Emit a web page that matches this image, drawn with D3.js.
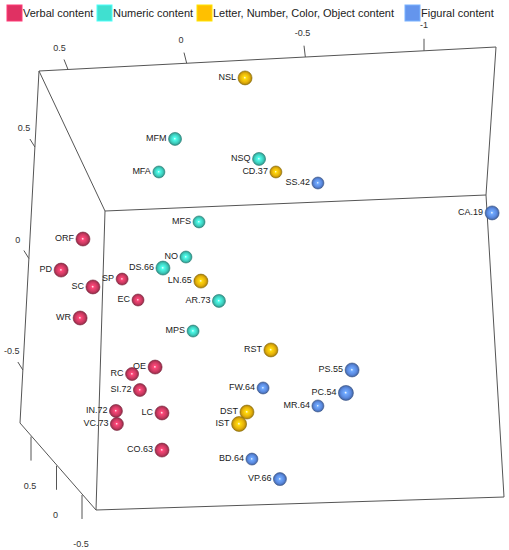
<!DOCTYPE html>
<html>
<head>
<meta charset="utf-8">
<script src="https://cdn.jsdelivr.net/npm/d3@7"></script>
<style>
  body { margin: 0; background: #fff; }
  svg { display: block; font-family: "Liberation Sans", Arial, Helvetica, sans-serif; }
</style>
</head>
<body>
<div id="chart"></div>
<script>
// legend groups
const groupNames = ["Verbal content", "Numeric content", "Letter, Number, Color, Object content", "Figural content"];
const groupColors = ["#e03163", "#40e0d0", "#ffc000", "#6495ed"];
const ballColors = ["#cc3a62", "#3fcfbf", "#e6b10a", "#5b8ae0"];

// tests: label, group index, horizontal reading, vertical reading, depth (ball size)
const labels = ["NSL","MFM","MFA","NSQ","CD.37","SS.42","CA.19","MFS","ORF","NO","DS.66","PD","LN.65","SP","SC","EC","AR.73","WR","MPS","RST","OE","RC","PS.55","FW.64","PC.54","SI.72","MR.64","DST","LC","IST","IN.72","VC.73","CO.63","BD.64","VP.66"];
const groups = [2,1,1,1,2,3,3,1,0,1,1,0,2,0,0,0,1,0,1,2,0,0,3,3,3,0,3,2,0,2,0,0,0,3,3];
const hVals = [-0.246,0.049,0.117,-0.305,-0.376,-0.553,-1.287,-0.052,0.437,0.003,0.100,0.529,-0.060,0.272,0.395,0.205,-0.136,0.449,-0.027,-0.355,0.133,0.230,-0.697,-0.322,-0.671,0.197,-0.553,-0.254,0.104,-0.221,0.298,0.294,0.104,-0.275,-0.393];
const vVals = [0.807,0.536,0.389,0.447,0.389,0.340,0.207,0.167,0.091,0.011,-0.038,-0.047,-0.096,-0.087,-0.122,-0.180,-0.184,-0.260,-0.318,-0.402,-0.478,-0.509,-0.491,-0.571,-0.593,-0.580,-0.651,-0.678,-0.682,-0.731,-0.673,-0.731,-0.847,-0.887,-0.976];
const depth = [0.17,-0.17,-0.5,-0.17,-0.5,-0.5,0.17,-0.5,0.17,-0.5,0.17,0.17,0.17,-0.5,0.17,-0.5,-0.17,0.17,-0.5,0.17,0.17,-0.17,0.17,-0.5,0.5,-0.17,-0.5,0.17,0.17,0.5,-0.17,-0.17,0.17,-0.5,-0.17];

// axis tick labels
const topTicks = [0.5, 0, -0.5, -1];
const leftTicks = [0.5, 0, -0.5];
const depthTicks = [0.5, 0, -0.5];

const width = 509, height = 550;

const svg = d3.select("#chart").append("svg")
  .attr("width", width)
  .attr("height", height);

// scales for the viewing plane
const x = d3.scaleLinear().domain([0.5, -1]).range([68, 424]);
const y = d3.scaleLinear().domain([0.5, -0.5]).range([147, 372]);
const r = d3.scaleLinear().domain([-0.5, 0.5]).range([6, 7.5]);

// box corners (projected)
const bTL = [39, 71], bTR = [496, 47], bBL = [20, 423];
const fTL = [105, 211], fTR = [486, 195], fBL = [96, 510], fBR = [504, 497];
const edges = [[bTL, bTR], [bTL, bBL], [bTL, fTL], [fTL, fTR], [fTL, fBL], [fBL, fBR], [fTR, fBR], [bTR, fTR], [bBL, fBL]];

const box = svg.append("g").attr("stroke", "#555").attr("stroke-width", 1).attr("fill", "none");
box.selectAll("line.edge").data(edges).join("line")
  .attr("class", "edge")
  .attr("x1", d => d[0][0]).attr("y1", d => d[0][1])
  .attr("x2", d => d[1][0]).attr("y2", d => d[1][1]);

// point on an edge given its x (or y)
function onEdgeX(a, b, px) { return a[1] + (px - a[0]) * (b[1] - a[1]) / (b[0] - a[0]); }
function onEdgeY(a, b, py) { return a[0] + (py - a[1]) * (b[0] - a[0]) / (b[1] - a[1]); }

// top axis (back top edge)
const dirT = d3.scaleLinear().domain([0.5, -1]).range([-4, 0]);
const lenT = d3.scaleLinear().domain([0.5, -1]).range([-10, -12]);
const topG = svg.append("g");
topTicks.forEach(t => {
  const px = x(t), py = onEdgeX(bTL, bTR, px);
  const dx = dirT(t), dy = lenT(t);
  topG.append("line").attr("x1", px).attr("y1", py).attr("x2", px + dx).attr("y2", py + dy)
    .attr("stroke", "#555");
  topG.append("text").attr("x", px + 2.1 * dx).attr("y", py + 2.1 * dy)
    .attr("text-anchor", "middle").attr("dominant-baseline", "middle")
    .attr("font-size", 9).attr("fill", "#333").text(t);
});

// left axis (back left edge)
const yl = d3.scaleLinear().domain([0.5, -0.5]).range([147, 370]);
const leftG = svg.append("g");
leftTicks.forEach(t => {
  const py = yl(t), px = onEdgeY(bTL, bBL, py);
  leftG.append("line").attr("x1", px).attr("y1", py).attr("x2", px - 5).attr("y2", py - 8)
    .attr("stroke", "#555");
  leftG.append("text").attr("x", px - 11).attr("y", py - 18)
    .attr("text-anchor", "middle").attr("dominant-baseline", "middle")
    .attr("font-size", 9).attr("fill", "#333").text(t);
});

// depth axis (bottom left edge)
const zd = d3.scaleLinear().domain([0.5, -0.5]).range([31, 82]);
const depthG = svg.append("g");
depthTicks.forEach(t => {
  const px = zd(t), py = onEdgeX(bBL, fBL, px);
  depthG.append("line").attr("x1", px).attr("y1", py + 1).attr("x2", px).attr("y2", py + 25)
    .attr("stroke", "#555");
  depthG.append("text").attr("x", px - 1).attr("y", py + 51)
    .attr("text-anchor", "middle").attr("dominant-baseline", "middle")
    .attr("font-size", 9).attr("fill", "#333").text(t);
});

// sphere shading
const defs = svg.append("defs");
ballColors.forEach((c, i) => {
  const g = defs.append("radialGradient").attr("id", "ball" + i)
    .attr("cx", "50%").attr("cy", "50%").attr("r", "55%")
    .attr("fx", "48%").attr("fy", "48%");
  g.append("stop").attr("offset", "0%").attr("stop-color", "#ffffff");
  g.append("stop").attr("offset", "18%").attr("stop-color", d3.color(c).brighter(0.6));
  g.append("stop").attr("offset", "60%").attr("stop-color", c);
  g.append("stop").attr("offset", "100%").attr("stop-color", d3.color(c).darker(1.2));
});

const pts = labels.map((l, i) => ({ label: l, g: groups[i], h: hVals[i], v: vVals[i], z: depth[i] }));

const ptG = svg.append("g");
ptG.selectAll("text").data(pts).join("text")
  .attr("x", d => x(d.h) - r(d.z) - 2)
  .attr("y", d => y(d.v))
  .attr("text-anchor", "end")
  .attr("dominant-baseline", "middle")
  .attr("font-size", 9)
  .attr("fill", "#222")
  .text(d => d.label);

ptG.selectAll("circle").data(pts).join("circle")
  .attr("cx", d => x(d.h))
  .attr("cy", d => y(d.v))
  .attr("r", d => r(d.z))
  .attr("fill", d => `url(#ball${d.g})`)
  .attr("stroke", d => d3.color(ballColors[d.g]).darker(1.5))
  .attr("stroke-width", 0.6);

// legend
const legX = [7, 97, 197, 405];
const leg = svg.append("g");
groupNames.forEach((name, i) => {
  leg.append("rect").attr("x", legX[i]).attr("y", 5).attr("width", 15).attr("height", 16)
    .attr("fill", groupColors[i])
    .attr("stroke", d3.color(groupColors[i]).brighter(0.5)).attr("stroke-width", 1);
  leg.append("text").attr("x", legX[i] + 16).attr("y", 17)
    .attr("font-size", 11).attr("fill", "#222").text(name);
});
</script>
</body>
</html>
